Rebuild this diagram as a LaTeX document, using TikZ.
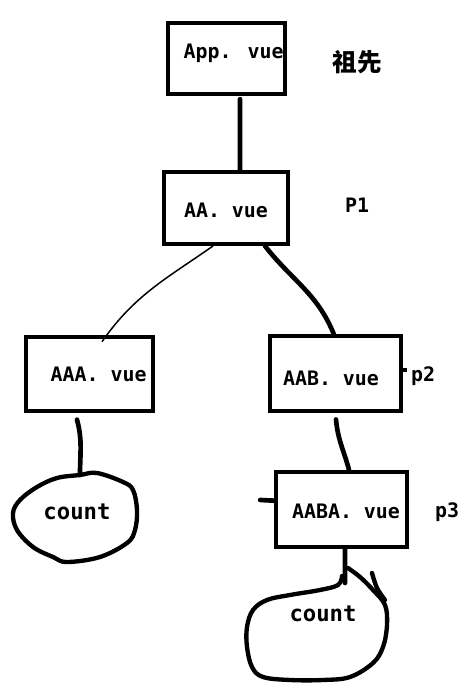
\documentclass[tikz,border=0pt]{standalone}
\usepackage{fontspec}
\newfontfamily\labelfont{DejaVu Sans Mono}
\newfontfamily\cjkfont{Noto Sans CJK SC}
\tikzset{
	vuebox/.style={draw, rectangle, line width=0.12cm, inner sep=0pt},
	vuetext/.style={font=\labelfont\bfseries\fontsize{17}{20}\selectfont, inner sep=0pt},
	thickline/.style={line width=0.14cm, line cap=round},
	thinline/.style={line width=0.045cm},
	blobline/.style={line width=0.13cm, line cap=round, line join=round},
	tag/.style={font=\labelfont\bfseries\fontsize{17}{20}\selectfont},
	cnt/.style={font=\labelfont\bfseries\fontsize{19}{22}\selectfont}
}

\begin{document}
\begin{tikzpicture}
			%%%%% START %%%%%
			\useasboundingbox (0, 0) rectangle (14.22, 20.76);
			
			\node[vuebox, minimum width=3.51cm, minimum height=2.13cm, label={[vuetext, xshift=2.1mm, yshift=1.6mm]center:App. vue}] (app) at (6.80, 19.01) {};
			\node[font=\cjkfont\bfseries\fontsize{21}{24}\selectfont] (zuxian) at (10.71, 18.90) {祖先};
			
			\node[vuebox, minimum width=3.72cm, minimum height=2.16cm, label={[vuetext, yshift=-0.6mm]center:AA. vue}] (aa) at (6.78, 14.52) {};
			\node[tag] (p1) at (10.71, 14.61) {P1};
			
			\node[vuebox, minimum width=3.81cm, minimum height=2.22cm, label={[vuetext, xshift=2.7mm]center:AAA. vue}] (aaa) at (2.69, 9.54) {};
			\node[vuebox, minimum width=3.93cm, minimum height=2.25cm, label={[vuetext, xshift=-1.4mm, yshift=-1.6mm]center:AAB. vue}] (aab) at (10.07, 9.56) {};
			\node[tag] (p2) at (12.69, 9.48) {p2};
			
			\node[vuebox, minimum width=3.93cm, minimum height=2.25cm, label={[vuetext, xshift=1.3mm, yshift=-0.7mm]center:AABA. vue}] (aaba) at (10.25, 5.48) {};
			\node[tag] (p3) at (13.41, 5.40) {p3};
			
			\node[cnt] (cnt1) at (2.31, 5.40) {count};
			\node[cnt] (cnt2) at (9.69, 2.34) {count};
			
			\coordinate (top1) at (2.40, 6.51);
			\coordinate (top2) at (10.35, 3.27);
			
			\draw[thickline] ([xshift=4mm, yshift=-1mm]app.south) -- ([xshift=4.2mm]aa.north);
			\draw[thinline] ([xshift=-3.9mm]aa.south) to[out=-145, in=55] ([xshift=3.7mm, yshift=-2mm]aaa.north);
			\draw[thickline] ([xshift=11.7mm]aa.south) to[out=-52, in=112] ([xshift=-0.6mm]aab.north);
			\draw[thickline] ([xshift=-3.8mm, yshift=-2mm]aaa.south) to[out=-75, in=90] (top1);
			\draw[thickline] ([xshift=0.1mm, yshift=-2mm]aab.south) to[out=-85, in=105] ([xshift=2.2mm]aaba.north);
			\draw[thickline] ([xshift=1mm]aaba.south) -- (top2);
			
			\draw[thickline] ([xshift=-4.2mm, yshift=2.8mm]aaba.west) -- ([yshift=2.6mm]aaba.west);
			\draw[line width=0.1cm] ([yshift=1mm]aab.east) -- ([xshift=1.2mm, yshift=1mm]aab.east);
			
			\draw[blobline] plot[smooth cycle, tension=0.6] coordinates {(top1) (2.91, 6.57) (3.69, 6.30) (3.99, 6.06) (4.11, 5.46) (4.05, 4.86) (3.81, 4.47) (3.00, 4.05) (2.01, 3.90) (1.59, 4.05) (0.99, 4.35) (0.51, 4.86) (0.39, 5.37) (0.60, 5.76) (1.11, 6.15) (1.71, 6.42)};
			
			\draw[blobline] plot[smooth, tension=0.6] coordinates {(10.44, 3.72) (10.80, 3.45) (11.19, 3.06) (11.55, 2.61) (11.61, 2.01) (11.49, 1.35) (11.19, 0.87) (10.50, 0.45) (9.69, 0.36) (8.70, 0.36) (7.89, 0.45) (7.56, 0.75) (7.41, 1.35) (7.41, 1.95) (7.59, 2.46) (8.01, 2.76) (8.70, 2.91) (9.60, 3.06) (10.14, 3.21) (10.26, 3.48)};
			\draw[blobline] plot[smooth, tension=0.6] coordinates {(11.16, 3.57) (11.31, 3.12) (11.55, 2.76)};
			
			%%%%% END %%%%%
\end{tikzpicture}
\end{document}
